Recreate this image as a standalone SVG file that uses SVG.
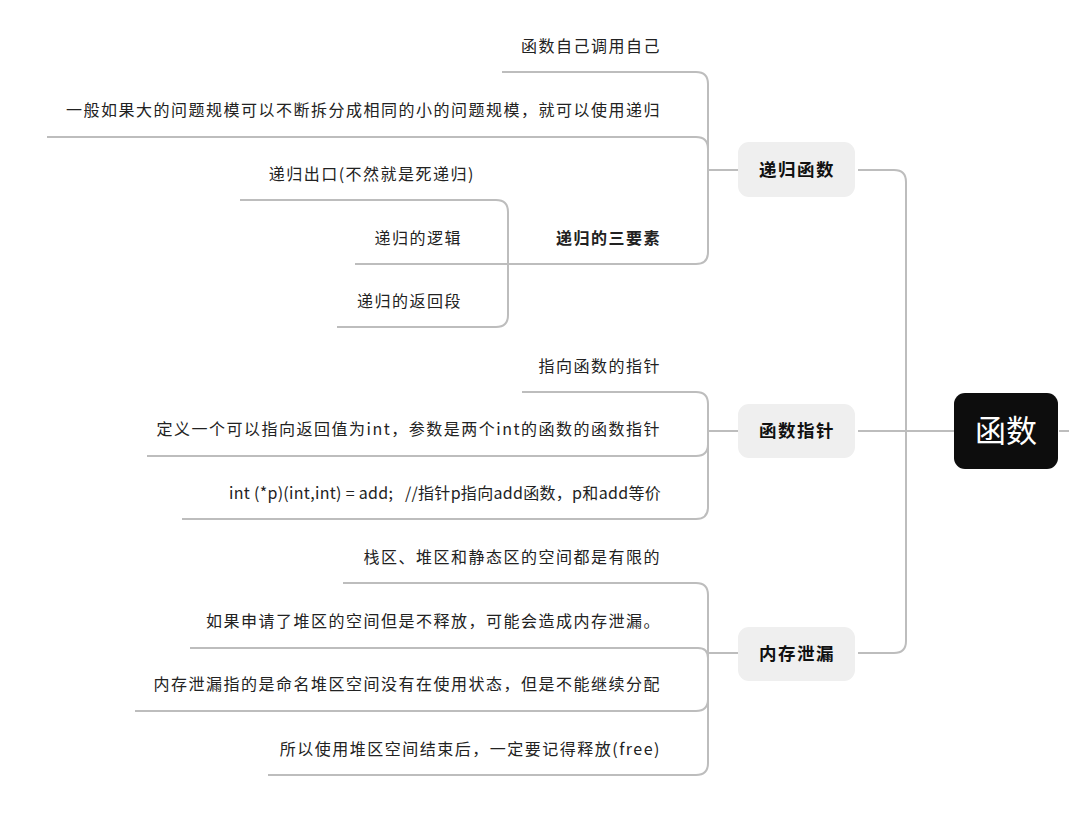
<svg xmlns="http://www.w3.org/2000/svg" width="1069" height="832" viewBox="0 0 1069 832">
<style>
.c{fill:none;stroke:#bdbdbd;stroke-width:2}
.t{font-family:"Noto Sans CJK SC","Noto Sans",sans-serif;font-size:16px;letter-spacing:1.5px;fill:#222;text-anchor:end}
.b{font-family:"Noto Sans CJK SC",sans-serif;font-size:17.5px;letter-spacing:1.5px;font-weight:bold;fill:#111;text-anchor:middle}
.bn{fill:#efefef}
</style>
<rect width="1069" height="832" fill="#fff"/>
<g id="connectors">
<path class="c" d="M1059,431H1069"/>
<path class="c" d="M954,431H858M906,431V182Q906,170 894,170H858M906,431V641Q906,653 894,653H858"/>
<path class="c" d="M738,170H708M708,170V84Q708,72 696,72H502M708,170V149Q708,137 696,137H47M708,170V252Q708,264 696,264H355"/>
<path class="c" d="M508,264V212Q508,200 496,200H240M508,264V315Q508,327 496,327H337"/>
<path class="c" d="M738,431H708M708,431V404Q708,392 696,392H522M708,431V444Q708,456 696,456H147M708,431V507Q708,519 696,519H182"/>
<path class="c" d="M738,653H708M708,653V595Q708,583 696,583H343M708,658Q708,648 698,648H190M708,653V699Q708,711 696,711H135M708,653V763Q708,775 696,775H268"/>
</g>
<g id="root"><rect x="954" y="393" width="104" height="76" rx="11" fill="#0d0d0d"/><text x="1006" y="442" font-family="Noto Sans CJK SC,sans-serif" font-size="31" fill="#fff" text-anchor="middle">函数</text></g>
<g id="n1"><rect class="bn" x="738" y="142" width="117" height="55" rx="11"/><text class="b" x="797" y="176">递归函数</text></g>
<g id="n2"><rect class="bn" x="738" y="404" width="117" height="54" rx="11"/><text class="b" x="797" y="437">函数指针</text></g>
<g id="n3"><rect class="bn" x="738" y="627" width="117" height="54" rx="11"/><text class="b" x="797" y="660">内存泄漏</text></g>
<g id="n1c">
<text class="t" x="661" y="52">函数自己调用自己</text>
<text class="t" x="661" y="116">一般如果大的问题规模可以不断拆分成相同的小的问题规模，就可以使用递归</text>
<text class="t" x="661" y="244" font-weight="bold">递归的三要素</text>
<text class="t" x="475" y="180">递归出口(不然就是死递归)</text>
<text class="t" x="462" y="244">递归的逻辑</text>
<text class="t" x="462" y="307">递归的返回段</text>
</g>
<g id="n2c">
<text class="t" x="661" y="372">指向函数的指针</text>
<text class="t" x="661" y="435">定义一个可以指向返回值为int，参数是两个int的函数的函数指针</text>
<text class="t" x="661" y="499" style="letter-spacing:0.3px" xml:space="preserve">int (*p)(int,int) = add;   //指针p指向add函数，p和add等价</text>
</g>
<g id="n3c">
<text class="t" x="661" y="563">栈区、堆区和静态区的空间都是有限的</text>
<text class="t" x="661" y="627">如果申请了堆区的空间但是不释放，可能会造成内存泄漏。</text>
<text class="t" x="661" y="690">内存泄漏指的是命名堆区空间没有在使用状态，但是不能继续分配</text>
<text class="t" x="661" y="755">所以使用堆区空间结束后，一定要记得释放(free)</text>
</g>
</svg>
